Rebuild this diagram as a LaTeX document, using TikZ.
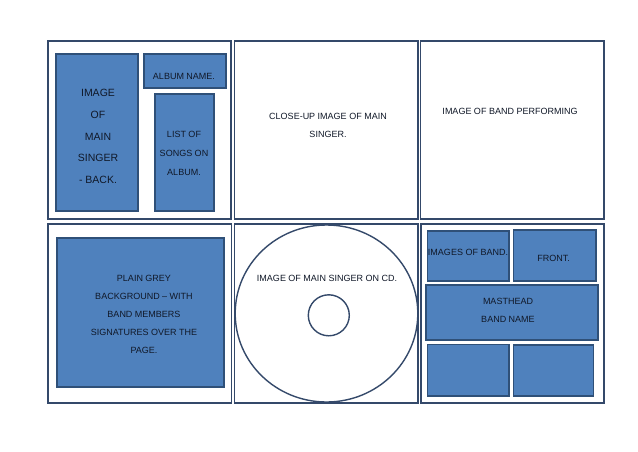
\documentclass[tikz,border=0pt]{standalone}
\usepackage{fontspec}
\setmainfont{Liberation Sans}
\definecolor{boxfill}{HTML}{4F81BD}
\definecolor{boxline}{HTML}{2F5078}
\definecolor{panelline}{HTML}{34496A}
\definecolor{txt}{HTML}{101828}
\begin{document}
\begin{tikzpicture}[x=1pt,y=-1pt,
  panel/.style={draw=panelline,line width=1.6pt,fill=white},
  bbox/.style={draw=boxline,line width=1.2pt,fill=boxfill},
  lbl/.style={text=txt,inner sep=0pt,align=center,font=\fontsize{9}{18}\selectfont},
  biglbl/.style={text=txt,inner sep=0pt,align=center,font=\fontsize{10.5}{21.6}\selectfont}]
\useasboundingbox[fill=white] (0,0) rectangle (638,451);
% panels
\draw[panel] (48,41) rectangle (231,219);
\draw[panel] (234.5,41) rectangle (418,219);
\draw[panel] (420.5,41) rectangle (604,219);
\draw[panel] (48,224) rectangle (231.5,403);
\draw[panel] (234.5,224) rectangle (418,403);
\draw[panel] (421,224) rectangle (604,403);
% top-left
\draw[bbox] (56,54) rectangle (138,211);
\draw[bbox] (144,54) rectangle (226,88);
\draw[bbox] (155,94) rectangle (214,211);
\node[biglbl] (t1) at (98,136.5) {IMAGE\\OF\\MAIN\\SINGER\\- BACK.};
\node[lbl] (t2) at (184,76.5) {ALBUM NAME.};
\node[lbl,font=\fontsize{9}{19}\selectfont] (t3) at (184,153) {LIST OF\\SONGS ON\\ALBUM.};
% top-middle
\node[lbl] (t4) at (328,125) {CLOSE-UP IMAGE OF MAIN\\SINGER.};
% top-right
\node[lbl] (t5) at (510,111.5) {IMAGE OF BAND PERFORMING};
% bottom-left
\draw[bbox] (57,238) rectangle (224,387);
\node[lbl] (t6) at (144,314) {PLAIN GREY\\BACKGROUND -- WITH\\BAND MEMBERS\\SIGNATURES OVER THE\\PAGE.};
% bottom-middle CD
\draw[draw=panelline,line width=1.4pt] (326.5,313.5) ellipse [x radius=91.3,y radius=88.5];
\draw[draw=panelline,line width=1.4pt] (328.8,315.3) circle [radius=20.5];
\node[lbl] (t7) at (327,278.5) {IMAGE OF MAIN SINGER ON CD.};
% bottom-right
\draw[bbox] (427.5,231) rectangle (509,281);
\draw[bbox] (513.5,230) rectangle (596,281);
\draw[bbox] (426,285) rectangle (598,340);
\draw[bbox] (427.5,344.5) rectangle (509,396);
\draw[bbox] (513.5,345) rectangle (593.5,396);
\node[lbl] (t8) at (468,252.5) {IMAGES OF BAND.};
\node[lbl] (t9) at (553.5,258) {FRONT.};
\node[lbl] (t10) at (508,310) {MASTHEAD\\BAND NAME};
\end{tikzpicture}
\end{document}
